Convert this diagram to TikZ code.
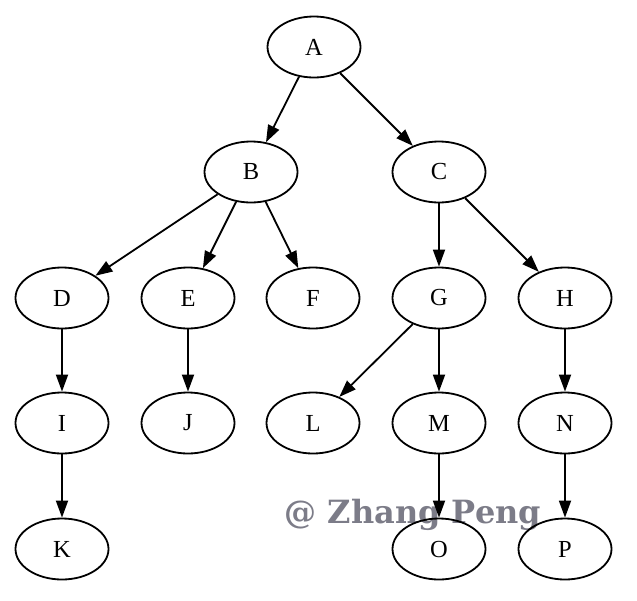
\documentclass[tikz,border=0pt]{standalone}
\usepackage{fontspec}
\setmainfont{Liberation Serif}
\newfontfamily\markfont{DejaVu Serif}
\usepackage{tikz}
\usetikzlibrary{shapes.geometric,arrows.meta}
\definecolor{markgray}{RGB}{124,124,136}

\begin{document}
\begin{tikzpicture}[x=1pt,y=-1pt]
			\tikzset{treenode/.style={ellipse,draw,line width=1.8pt,minimum width=93pt,minimum height=61pt,inner sep=0pt,font=\fontsize{24.5}{28}\selectfont}}
			\tikzset{treeedge/.style={draw,line width=1.8pt,-{Triangle[length=17pt,width=12pt]}}}
			\useasboundingbox (0,0) rectangle (637,600);
			\node[anchor=base west,text=markgray,font=\markfont\bfseries\fontsize{32}{36}\selectfont] (mark) at (281,523) {@ Zhang Peng};
			\node[treenode] (A) at (314,47) {A};
			\node[treenode] (B) at (251,172) {B};
			\node[treenode] (C) at (439,172) {C};
			\node[treenode] (D) at (62,298) {D};
			\node[treenode] (E) at (188,298) {E};
			\node[treenode] (F) at (313,298) {F};
			\node[treenode] (G) at (439,298) {G};
			\node[treenode] (H) at (565,298) {H};
			\node[treenode] (I) at (62,423) {I};
			\node[treenode] (J) at (188,423) {J};
			\node[treenode] (L) at (313,423) {L};
			\node[treenode] (M) at (439,423) {M};
			\node[treenode] (N) at (565,423) {N};
			\node[treenode] (K) at (62,549) {K};
			\node[treenode] (O) at (439,549) {O};
			\node[treenode] (P) at (565,549) {P};
			\path[treeedge] (A) edge (B) edge (C)
				(B) edge (D) edge (E) edge (F)
				(C) edge (G) edge (H)
				(D) edge (I) (E) edge (J)
				(G) edge (L) edge (M) (H) edge (N)
				(I) edge (K) (M) edge (O) (N) edge (P);
		\end{tikzpicture}
\end{document}
